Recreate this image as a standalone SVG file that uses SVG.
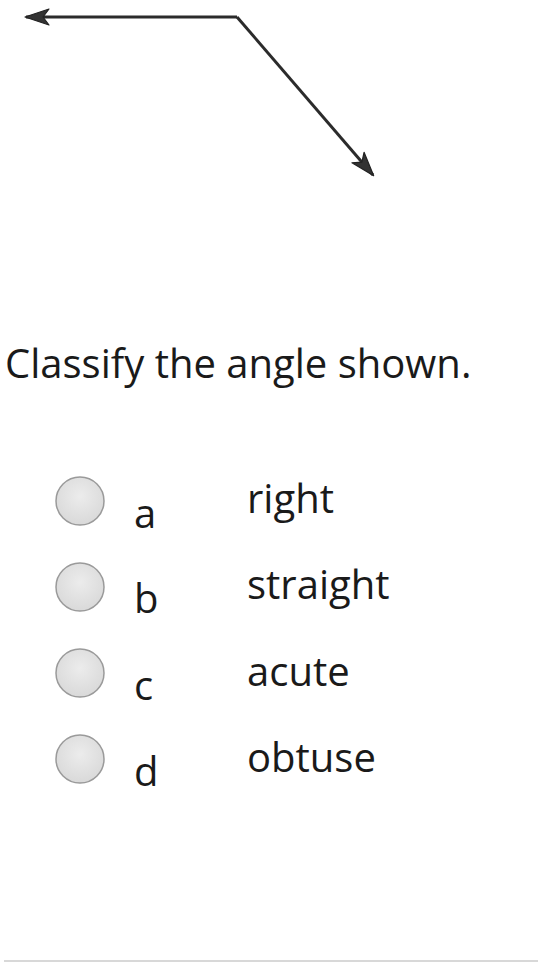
<svg xmlns="http://www.w3.org/2000/svg" width="538" height="966" viewBox="0 0 538 966">
<style>
.t{font-family:"Open Sans","Noto Sans",sans-serif;fill:#1a1a1a;font-size:40px}
.r{fill:url(#rg);stroke:#9a9a9a;stroke-width:1.5}
.ray{fill:none;stroke:#2b2b2b;stroke-width:3}
</style>
<defs>
<radialGradient id="rg" cx="0.5" cy="0.4" r="0.6">
<stop offset="0" stop-color="#ececec"/>
<stop offset="1" stop-color="#d9d9d9"/>
</radialGradient>
<marker id="ah" viewBox="0 0 26 20" refX="24" refY="10" markerWidth="26" markerHeight="20" markerUnits="userSpaceOnUse" orient="auto">
<path d="M1,2 L25,10 L1,18 L7,10 Z" fill="#333" stroke="#222" stroke-width="1.2" stroke-linejoin="round"/>
</marker>
</defs>
<rect width="538" height="966" fill="#fff"/>
<g id="connectors">
<path class="ray" d="M237,17 L26,17" marker-end="url(#ah)"/>
<path class="ray" d="M237,17 L373,175" marker-end="url(#ah)"/>
</g>
<g id="question"><text class="t" x="5" y="378">Classify the angle shown.</text></g>
<g id="option-a"><circle class="r" cx="80" cy="501" r="24"/><text class="t" x="134" y="528">a</text><text class="t" x="247" y="513">right</text></g>
<g id="option-b"><circle class="r" cx="80" cy="587" r="24"/><text class="t" x="134" y="613">b</text><text class="t" x="247" y="599">straight</text></g>
<g id="option-c"><circle class="r" cx="80" cy="673" r="24"/><text class="t" x="134" y="700">c</text><text class="t" x="247" y="686">acute</text></g>
<g id="option-d"><circle class="r" cx="80" cy="759" r="24"/><text class="t" x="134" y="786">d</text><text class="t" x="247" y="772">obtuse</text></g>
<line x1="4" y1="961" x2="538" y2="961" stroke="#d8d8d8" stroke-width="2"/>
</svg>
